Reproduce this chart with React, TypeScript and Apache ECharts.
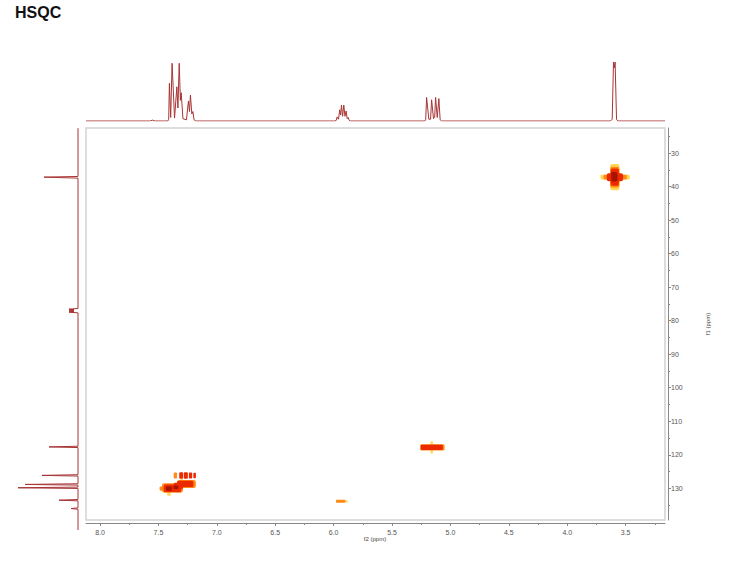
import React, { useEffect, useRef } from "react";
import * as echarts from "echarts";

// ---- data ----
const f2Range = [3.163, 8.12];
const f1Range = [22.54, 139.46];
const f2Labels = [8.0, 7.5, 7.0, 6.5, 6.0, 5.5, 5.0, 4.5, 4.0, 3.5];
const f2Minor = [7.75, 7.25, 6.75, 6.25, 5.75, 5.25, 4.75, 4.25, 3.75, 3.25];
const f1Labels = [30, 40, 50, 60, 70, 80, 90, 100, 110, 120, 130];
const f1Minor = [25, 35, 45, 55, 65, 75, 85, 95, 105, 115, 125, 135];

// 1H projection [ppm, intensity]
const protonTrace = [
  [8.12, 0], [7.57, 0], [7.55, 1.5], [7.53, 0],
  [7.42, 0], [7.412, 3], [7.406, 64], [7.395, 6], [7.383, 98], [7.362, 5],
  [7.342, 58], [7.333, 22], [7.322, 98], [7.312, 35], [7.305, 48], [7.29, 4],
  [7.26, 2], [7.243, 34], [7.234, 16], [7.226, 44], [7.214, 12], [7.205, 16],
  [7.195, 2], [7.18, 0],
  [5.99, 0], [5.978, 1], [5.97, 7], [5.958, 3], [5.948, 19], [5.94, 10],
  [5.933, 27], [5.923, 8], [5.913, 27], [5.903, 8], [5.893, 17], [5.884, 4],
  [5.876, 6], [5.866, 1], [5.855, 0],
  [5.22, 0], [5.212, 2], [5.204, 40], [5.185, 3], [5.17, 3], [5.161, 36],
  [5.145, 4], [5.135, 6], [5.127, 40], [5.113, 6], [5.099, 38], [5.088, 2],
  [5.075, 0],
  [3.63, 0], [3.615, 3], [3.604, 100], [3.597, 90], [3.59, 100], [3.578, 3],
  [3.565, 0], [3.163, 0],
];

// 13C projection [intensity, ppm]
const carbonTrace = [
  [0, 22.6], [0, 37.0], [34, 37.2], [34, 37.35], [0, 37.5],
  [0, 76.4], [9, 76.6], [4, 76.75], [9, 76.9], [4, 77.05], [9, 77.2], [4, 77.35], [9, 77.5], [0, 77.7],
  [0, 117.5], [29, 117.7], [0, 117.9],
  [0, 126.0], [36, 126.2], [0, 126.4],
  [0, 128.7], [53, 128.9], [0, 129.1],
  [0, 129.7], [60, 129.9], [0, 130.1],
  [0, 133.4], [19, 133.6], [0, 133.8],
  [0, 135.9], [7, 136.1], [0, 136.3],
  [0, 142.5],
];

// HSQC cross peaks [f2, f1, halfWidth f2, halfWidth f1, contour level]
const crossPeaks = [
  // 3.59 / 37.2
  [3.59, 37.2, 0.125, 0.7, 0],
  [3.593, 37.2, 0.04, 3.9, 0],
  [3.59, 37.2, 0.1, 0.7, 1],
  [3.593, 37.2, 0.04, 3.1, 1],
  [3.592, 37.2, 0.07, 1.2, 2],
  [3.593, 37.2, 0.035, 2.6, 2],
  [3.598, 37.1, 0.025, 1.4, 3],
  [3.582, 37.3, 0.012, 1.0, 3],
  // 5.16 / 117.8
  [5.16, 117.8, 0.01, 1.8, 0],
  [5.155, 117.8, 0.105, 0.9, 1],
  [5.225, 117.8, 0.028, 0.75, 2],
  [5.165, 117.8, 0.04, 0.8, 2],
  [5.105, 117.8, 0.04, 0.8, 2],
  // aromatic 128-130
  [7.41, 130.4, 0.015, 1.8, 0],
  [7.3, 128.8, 0.012, 1.6, 0],
  [7.45, 130.1, 0.04, 0.6, 1],
  [7.38, 129.9, 0.09, 1.4, 1],
  [7.26, 128.7, 0.08, 1.2, 1],
  [7.38, 130.0, 0.075, 1.1, 2],
  [7.27, 128.7, 0.07, 0.95, 2],
  [7.33, 129.3, 0.04, 0.95, 2],
  [7.41, 130.1, 0.025, 0.6, 3],
  [7.35, 129.7, 0.02, 0.5, 3],
  // aromatic 126
  [7.355, 126.2, 0.014, 0.9, 1],
  [7.305, 126.2, 0.017, 0.95, 2],
  [7.265, 126.2, 0.017, 0.95, 2],
  [7.225, 126.2, 0.014, 0.9, 2],
  [7.19, 126.2, 0.011, 0.8, 2],
  // 5.94 / 133.9
  [5.9, 133.9, 0.02, 0.3, 0],
  [5.94, 133.9, 0.04, 0.45, 1],
];

const levelColors = ["rgba(255,205,40,0.8)", "#ff8a14", "#ec2a00", "#a81200"];
const traceColor = "#a83535";

export default function App() {
  const ref = useRef<HTMLDivElement>(null);
  useEffect(() => {
    if (!ref.current) return;
    const chart = echarts.init(ref.current, undefined, { renderer: "svg" });
    const tickLabel = { fontSize: 7, color: "#555", fontFamily: "Liberation Sans" };
    const sorted = crossPeaks.slice().sort((a, b) => a[4] - b[4]);
    chart.setOption({
      animation: false,
      backgroundColor: "#fff",
      title: {
        text: "HSQC",
        left: 15,
        top: 4,
        padding: 0,
        textStyle: { fontSize: 16, fontWeight: "bold", color: "#111", fontFamily: "Liberation Sans" },
      },
      grid: [
        { left: 86, top: 128, width: 579, height: 392, show: true, borderColor: "#d2d2d2", borderWidth: 1.5, backgroundColor: "#fff" },
        { left: 86, top: 55, width: 579, height: 66 },
        { left: 14, top: 128, width: 64, height: 402 },
      ],
      xAxis: [
        {
          gridIndex: 0, type: "value", inverse: true, min: f2Range[0], max: f2Range[1],
          position: "bottom", offset: 3,
          axisLine: { show: true, lineStyle: { color: "#888", width: 1 } },
          axisTick: { show: true, length: 3, customValues: f2Labels, lineStyle: { color: "#888" } },
          axisLabel: { show: true, customValues: f2Labels, margin: 6, formatter: (v: number) => v.toFixed(1), ...tickLabel },
          splitLine: { show: false },
        },
        {
          gridIndex: 0, type: "value", inverse: true, min: f2Range[0], max: f2Range[1],
          position: "bottom", offset: 3,
          axisLine: { show: false },
          axisTick: { show: true, length: 2, customValues: f2Minor, lineStyle: { color: "#888" } },
          axisLabel: { show: false },
          splitLine: { show: false },
        },
        {
          gridIndex: 1, type: "value", inverse: true, min: f2Range[0], max: f2Range[1], show: false,
        },
        {
          gridIndex: 2, type: "value", inverse: true, min: 0, max: 64, show: false,
        },
      ],
      yAxis: [
        {
          gridIndex: 0, type: "value", inverse: true, min: f1Range[0], max: f1Range[1],
          position: "right", offset: 3,
          axisLine: { show: true, lineStyle: { color: "#888", width: 1 } },
          axisTick: { show: true, length: 3, customValues: f1Labels, lineStyle: { color: "#888" } },
          axisLabel: { show: true, customValues: f1Labels, margin: 3, ...tickLabel },
          splitLine: { show: false },
        },
        {
          gridIndex: 0, type: "value", inverse: true, min: f1Range[0], max: f1Range[1],
          position: "right", offset: 3,
          axisLine: { show: false },
          axisTick: { show: true, length: 2, customValues: f1Minor, lineStyle: { color: "#888" } },
          axisLabel: { show: false },
          splitLine: { show: false },
        },
        { gridIndex: 1, type: "value", min: 0, max: 112, show: false },
        { gridIndex: 2, type: "value", inverse: true, min: f1Range[0], max: 142.5, show: false },
      ],
      series: [
        {
          type: "custom",
          xAxisIndex: 0,
          yAxisIndex: 0,
          clip: true,
          encode: { x: 0, y: 1 },
          data: sorted,
          renderItem: (params: any, api: any) => {
            const c = api.coord([api.value(0), api.value(1)]);
            const s = api.size([api.value(2), api.value(3)]);
            const lvl = api.value(4);
            return {
              type: "rect",
              shape: { x: c[0] - s[0], y: c[1] - s[1], width: 2 * s[0], height: 2 * s[1], r: Math.min(s[0], s[1]) * 0.5 },
              style: { fill: levelColors[lvl] },
            };
          },
        },
        {
          type: "line",
          xAxisIndex: 2,
          yAxisIndex: 2,
          data: protonTrace,
          showSymbol: false,
          symbol: "none",
          lineStyle: { color: traceColor, width: 1 },
        },
        {
          type: "line",
          xAxisIndex: 3,
          yAxisIndex: 3,
          data: carbonTrace,
          showSymbol: false,
          symbol: "none",
          lineStyle: { color: traceColor, width: 1 },
        },
      ],
      graphic: [
        {
          type: "text", x: 375, y: 539,
          style: { text: "f2 (ppm)", fontSize: 6, fill: "#444", fontFamily: "Liberation Sans", align: "center", verticalAlign: "middle" },
        },
        {
          type: "text", x: 708, y: 324, rotation: Math.PI / 2,
          style: { text: "f1 (ppm)", fontSize: 6, fill: "#444", fontFamily: "Liberation Sans", align: "center", verticalAlign: "middle" },
        },
      ],
    });
    return () => chart.dispose();
  }, []);
  return <div ref={ref} style={{ position: "fixed", left: 0, top: 0, width: 734, height: 567 }} />;
}
